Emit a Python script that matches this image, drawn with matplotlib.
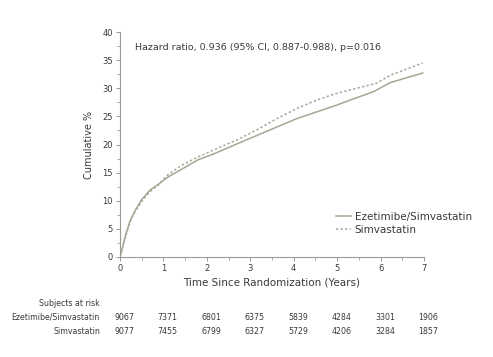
import matplotlib
matplotlib.use("Agg")
import matplotlib.pyplot as plt
import matplotlib.transforms as mtransforms
import numpy as np

# Data
eze_t = [0, 0.04, 0.12, 0.23, 0.35, 0.50, 0.69, 0.88, 1.10, 1.42, 1.80, 2.15, 2.69, 3.15, 3.61, 4.07, 4.53, 4.99, 5.30, 5.84, 6.22, 6.97]
eze_y = [0, 1.2, 3.6, 6.4, 8.3, 10.2, 11.9, 12.9, 14.2, 15.6, 17.3, 18.3, 20.1, 21.6, 23.1, 24.6, 25.8, 27.0, 27.9, 29.4, 31.0, 32.7]
sim_t = [0, 0.04, 0.12, 0.23, 0.35, 0.50, 0.69, 0.88, 1.10, 1.42, 1.80, 2.15, 2.69, 3.15, 3.61, 4.07, 4.53, 4.99, 5.45, 5.91, 6.22, 6.97]
sim_y = [0, 1.1, 3.5, 6.3, 8.1, 9.9, 11.6, 12.8, 14.6, 16.3, 17.8, 19.0, 20.8, 22.6, 24.6, 26.4, 27.9, 29.1, 30.0, 30.9, 32.3, 34.5]

series_labels = ["Ezetimibe/Simvastatin", "Simvastatin"]
risk_times = [0, 1, 2, 3, 4, 5, 6, 7]
risk_eze = [9067, 7371, 6801, 6375, 5839, 4284, 3301, 1906]
risk_sim = [9077, 7455, 6799, 6327, 5729, 4206, 3284, 1857]
x_ticks = [0, 1, 2, 3, 4, 5, 6, 7]
y_ticks = [0, 5, 10, 15, 20, 25, 30, 35, 40]
hr_text = "Hazard ratio, 0.936 (95% CI, 0.887-0.988), p=0.016"

W, H = 493, 357
fig = plt.figure(figsize=(W / 100, H / 100), dpi=100)
ax = fig.add_axes([120 / W, 1 - 257 / H, (424 - 120) / W, (257 - 32) / H])

line_col = "#a3a894"
axis_col = "#9a9a92"
text_col = "#3a3a3a"

ax.plot(eze_t, eze_y, color=line_col, lw=1.1, ls="-", label=series_labels[0])
ax.plot(sim_t, sim_y, color=line_col, lw=1.1, ls=(0, (1.5, 1.5)), label=series_labels[1])

ax.set_xlim(0, 7)
ax.set_ylim(0, 40)
ax.set_xticks(x_ticks)
ax.set_yticks(y_ticks)
ax.set_xticks(np.arange(0.5, 7, 1.0), minor=True)
ax.set_yticks(np.arange(2.5, 40, 5.0), minor=True)
for s in ["top", "right"]:
    ax.spines[s].set_visible(False)
for s in ["left", "bottom"]:
    ax.spines[s].set_color(axis_col)
    ax.spines[s].set_linewidth(0.8)
ax.tick_params(which="major", length=3, width=0.7, color=axis_col, labelsize=6, labelcolor=text_col, pad=2)
ax.tick_params(which="minor", length=2, width=0.6, color=axis_col)

ax.set_xlabel("Time Since Randomization (Years)", fontsize=7.5, color=text_col, labelpad=3)
ax.set_ylabel("Cumulative %", fontsize=7, color=text_col, labelpad=6)

ax.text(135, 1 - 47 / H, hr_text, transform=mtransforms.blended_transform_factory(
    mtransforms.IdentityTransform(), fig.transFigure), fontsize=6.8, color=text_col, va="center", ha="left")

leg = fig.legend(loc="upper left", bbox_to_anchor=(336 / W, 1 - 212 / H), frameon=False,
                 fontsize=7.5, handlelength=1.4, handletextpad=0.4, labelspacing=0.25,
                 borderaxespad=0, borderpad=0)
for t in leg.get_texts():
    t.set_color(text_col)

trans = mtransforms.blended_transform_factory(ax.transData, fig.transFigure)
fs = 5.7
fig.text(100 / W, 1 - 303 / H, "Subjects at risk", fontsize=fs, color=text_col, ha="right", va="center")
fig.text(100 / W, 1 - 317 / H, series_labels[0], fontsize=fs, color=text_col, ha="right", va="center")
fig.text(100 / W, 1 - 332 / H, series_labels[1], fontsize=fs, color=text_col, ha="right", va="center")
for t, a, b in zip(risk_times, risk_eze, risk_sim):
    ax.text(t + 0.1, 1 - 317 / H, str(a), transform=trans, fontsize=fs, color=text_col, ha="center", va="center")
    ax.text(t + 0.1, 1 - 332 / H, str(b), transform=trans, fontsize=fs, color=text_col, ha="center", va="center")

fig.savefig("out.png", dpi=100)
